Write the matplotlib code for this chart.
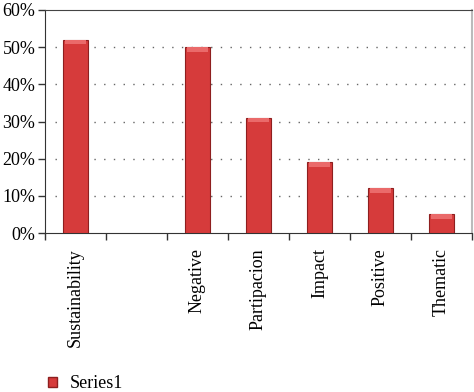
import matplotlib
matplotlib.use("Agg")
import matplotlib.pyplot as plt
from matplotlib.patches import Patch
from matplotlib.ticker import FixedLocator, PercentFormatter
import numpy as np

categories = ["Sustainability", "", "Negative", "Partipacion", "Impact", "Positive", "Thematic"]
values = [52, None, 50, 31, 19, 12, 5]
yticks = [0, 10, 20, 30, 40, 50, 60]
series_name = "Series1"

plt.rcParams['font.family'] = ['Liberation Serif', 'DejaVu Serif']
FS = 13

fig = plt.figure(figsize=(4.74, 3.92), dpi=100)
ax = fig.add_axes([45/474, 1-233/392, (472-45)/474, (233-10)/392])

x = np.arange(len(categories))
bx = [xi for xi, v in zip(x, values) if v is not None]
bv = [v for v in values if v is not None]
ax.bar(bx, bv, width=0.4, color="#d63b3b", edgecolor="#8e1f1f", linewidth=0.8, zorder=3)
# bevel highlight on top of each bar
ax.bar(bx, [1.2]*len(bv), bottom=[v-1.2 for v in bv], width=0.36, color="#ea6a6a", linewidth=0, zorder=4)

ax.set_xlim(-0.5, len(categories)-0.5)
ax.set_ylim(0, 60)
ax.set_yticks(yticks)
ax.yaxis.set_major_formatter(PercentFormatter(decimals=0))
for y in yticks[1:-1]:
    ax.plot([-0.33, len(categories)-0.55], [y, y], linestyle=(0, (1, 6)), color="#666666", linewidth=1.0, zorder=1)

ax.xaxis.set_major_locator(FixedLocator(np.arange(-0.5, len(categories), 1.0)))
ax.xaxis.set_minor_locator(FixedLocator(x))
ax.set_xticklabels([])
ax.set_xticklabels(categories, minor=True, rotation=90, fontsize=FS)
ax.tick_params(axis='x', which='major', length=5, width=1, direction='out', color="#333333")
ax.tick_params(axis='x', which='minor', length=0, pad=11)
ax.tick_params(axis='y', length=5, width=1, direction='out', color="#333333", labelsize=FS, pad=2)

ax.spines['left'].set_color("#333333")
ax.spines['bottom'].set_color("#333333")
ax.spines['top'].set_color("#444444")
ax.spines['right'].set_color("#bbbbbb")
ax.spines['right'].set_linewidth(1.5)

leg = fig.legend(handles=[Patch(facecolor="#d63b3b", edgecolor="#8e1f1f", label=series_name)],
                 loc="center left", bbox_to_anchor=(32/474, 1-384/392), frameon=False,
                 fontsize=FS, handlelength=0.5, handleheight=0.5, handletextpad=0.7)

fig.savefig("out.png", dpi=100)
